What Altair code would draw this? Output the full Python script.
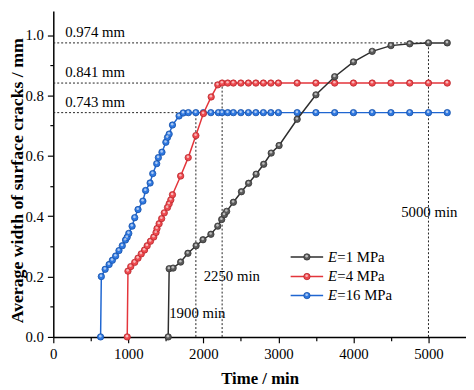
import altair as alt
import pandas as pd

# ---------------- data ----------------
E_values = [1, 4, 16]  # MPa

t_E1 = [1531, 1544, 1597, 1697, 1794, 1903, 1995, 2100, 2192, 2244, 2280, 2310, 2400,
        2507, 2603, 2703, 2804, 2904, 3009, 3250, 3500, 3750, 4000, 4250, 4500, 4750,
        5000, 5250]
w_E1 = [0.0, 0.226, 0.228, 0.248, 0.277, 0.302, 0.322, 0.340, 0.367, 0.389, 0.405, 0.416,
        0.446, 0.481, 0.509, 0.539, 0.572, 0.609, 0.634, 0.721, 0.802, 0.862, 0.911, 0.946,
        0.965, 0.971, 0.974, 0.974]

t_E4 = [985, 995, 1032, 1085, 1129, 1172, 1216, 1251, 1295, 1339, 1369, 1382, 1410, 1444,
        1479, 1522, 1544, 1566, 1588, 1697, 1798, 1900, 2000, 2104, 2192, 2250, 2325, 2400,
        2500, 2600, 2700, 2800, 2900, 3000, 3250, 3500, 3750, 4000, 4250, 4500, 4750, 5000,
        5250]
w_E4 = [0.0, 0.218, 0.233, 0.247, 0.261, 0.275, 0.288, 0.302, 0.317, 0.331, 0.346, 0.359,
        0.375, 0.392, 0.411, 0.429, 0.441, 0.454, 0.471, 0.533, 0.594, 0.667, 0.740, 0.795,
        0.835, 0.841, 0.841, 0.841, 0.841, 0.841, 0.841, 0.841, 0.841, 0.841, 0.841, 0.841,
        0.841, 0.841, 0.841, 0.841, 0.841, 0.841, 0.841]

t_E16 = [630, 640, 691, 744, 787, 831, 875, 919, 962, 984, 1006, 1050, 1085, 1129, 1194,
         1230, 1290, 1325, 1378, 1400, 1448, 1500, 1522, 1544, 1588, 1676, 1732, 1800, 1900,
         2000, 2100, 2200, 2250, 2325, 2400, 2500, 2600, 2700, 2800, 2900, 3000, 3250, 3500,
         3750, 4000, 4250, 4500, 4750, 5000, 5250]
w_E16 = [0.0, 0.200, 0.224, 0.240, 0.254, 0.268, 0.286, 0.302, 0.321, 0.330, 0.343, 0.367,
         0.395, 0.422, 0.450, 0.485, 0.510, 0.541, 0.574, 0.594, 0.612, 0.645, 0.661, 0.672,
         0.702, 0.732, 0.742, 0.743, 0.743, 0.743, 0.743, 0.743, 0.743, 0.743, 0.743, 0.743,
         0.743, 0.743, 0.743, 0.743, 0.743, 0.743, 0.743, 0.743, 0.743, 0.743, 0.743, 0.743,
         0.743, 0.743]

ref_times = [1900, 2250, 5000]      # min
ref_widths = [0.743, 0.841, 0.974]  # mm

x_major = [0, 1000, 2000, 3000, 4000, 5000]
x_minor = [500, 1500, 2500, 3500, 4500]
y_major = [0.0, 0.2, 0.4, 0.6, 0.8, 1.0]
y_minor = [0.1, 0.3, 0.5, 0.7, 0.9]

# ---------------- styling ----------------
FONT = "Liberation Serif"
LINE_COLORS = {1: "#2e2e2e", 4: "#e4353b", 16: "#1f66d1"}
MARK_COLORS = {1: "#5a5a5a", 4: "#ee4a4f", 16: "#2f78e0"}
EDGE_COLORS = {1: "#333333", 4: "#b8262b", 16: "#1650a8"}

XS = alt.Scale(domain=[0, 5500], nice=False, zero=False)
YS = alt.Scale(domain=[0, 1.08], nice=False, zero=False)

ax_x = alt.Axis(values=x_major, format="d", title="Time / min", grid=False,
                tickSize=6, tickWidth=1.2, tickColor="black",
                domainColor="black", domainWidth=1.5,
                labelFont=FONT, labelFontSize=15, labelColor="black", labelPadding=4,
                labelFlush=False,
                titleFont=FONT, titleFontSize=17, titleFontWeight="bold",
                titleColor="black", titleBaseline="top", titleY=34, titleX=209.5)
ax_x_minor = alt.Axis(values=x_minor, labels=False, domain=False, grid=False,
                      tickSize=4, tickWidth=1.2, tickColor="black", title="",
                      orient="bottom")
ax_y = alt.Axis(values=y_major, format=".1f", title="Average width of surface cracks / mm",
                grid=False, tickSize=6, tickWidth=1.2, tickColor="black",
                domainColor="black", domainWidth=1.5,
                labelFont=FONT, labelFontSize=15, labelColor="black", labelPadding=4,
                labelFlush=False,
                titleFont=FONT, titleFontSize=18, titleFontWeight="bold",
                titleColor="black", titleBaseline="bottom", titleX=-27, titleY=172)
ax_y_minor = alt.Axis(values=y_minor, labels=False, domain=False, grid=False,
                      tickSize=3.5, tickWidth=1.2, tickColor="black", title="",
                      orient="left")

series = [(1, t_E1, w_E1), (4, t_E4, w_E4), (16, t_E16, w_E16)]

# ---------------- reference dotted lines ----------------
ref_rows = []
for t, w in zip(ref_times, ref_widths):
    ref_rows.append({"x": 0, "x2": t, "y": w, "y2": w})
    ref_rows.append({"x": t, "x2": t, "y": 0, "y2": w})
ref_df = pd.DataFrame(ref_rows)

axes_layer = alt.Chart(ref_df).mark_rule(strokeDash=[2, 2], color="#222222",
                                          strokeWidth=1).encode(
    x=alt.X("x:Q", scale=XS, axis=ax_x),
    x2="x2:Q",
    y=alt.Y("y:Q", scale=YS, axis=ax_y),
    y2="y2:Q",
)
minor_layer = alt.Chart(ref_df).mark_rule(opacity=0).encode(
    x=alt.X("x:Q", scale=XS, axis=ax_x_minor),
    y=alt.Y("y:Q", scale=YS, axis=ax_y_minor),
)

layers = [axes_layer, minor_layer]

# series (blue underneath, black on top)
for e, ts, ws in sorted(series, key=lambda s: -s[0]):
    d = pd.DataFrame({"t": ts, "w": ws, "i": range(len(ts))})
    base = alt.Chart(d).encode(
        x=alt.X("t:Q", scale=XS, axis=None),
        y=alt.Y("w:Q", scale=YS, axis=None),
        order="i:Q",
    )
    layers.append(base.mark_line(color=LINE_COLORS[e], strokeWidth=1.5))
    layers.append(base.mark_point(filled=True, size=42, fill=MARK_COLORS[e],
                                  stroke=EDGE_COLORS[e], strokeWidth=0.8, opacity=1))
    layers.append(base.mark_point(filled=True, size=7, fill="white", opacity=0.6,
                                  yOffset=-0.8, xOffset=-0.3))

# width labels
wl_df = pd.DataFrame({"w": ref_widths, "txt": [f"{w:.3f} mm" for w in ref_widths]})
layers.append(alt.Chart(wl_df).mark_text(align="left", baseline="middle", dx=12, dy=-11,
                                         font=FONT, fontSize=15, color="black").encode(
    x=alt.value(0), y=alt.Y("w:Q", scale=YS, axis=None), text="txt:N"))

# time labels (positions)
tl_df = pd.DataFrame({"x": [1545, 2004, 4636], "y": [0.079, 0.200, 0.412],
                      "txt": [f"{t} min" for t in ref_times]})
layers.append(alt.Chart(tl_df).mark_text(align="left", baseline="middle", font=FONT,
                                         fontSize=15, color="black").encode(
    x=alt.X("x:Q", scale=XS, axis=None), y=alt.Y("y:Q", scale=YS, axis=None),
    text="txt:N"))

# manual legend
leg_df = pd.DataFrame({
    "e": E_values,
    "y": [0.265, 0.200, 0.137],
    "x0": [3163] * 3, "x1": [3596] * 3, "xm": [3380] * 3, "xt": [3661] * 3,
    "rest": [f"={e} MPa" for e in E_values],
})
for e in E_values:
    sub = leg_df[leg_df.e == e]
    layers.append(alt.Chart(sub).mark_rule(color=LINE_COLORS[e], strokeWidth=1.5).encode(
        x=alt.X("x0:Q", scale=XS, axis=None), x2="x1:Q",
        y=alt.Y("y:Q", scale=YS, axis=None)))
    layers.append(alt.Chart(sub).mark_point(filled=True, size=42, fill=MARK_COLORS[e],
                                            stroke=EDGE_COLORS[e], strokeWidth=0.8,
                                            opacity=1).encode(
        x=alt.X("xm:Q", scale=XS, axis=None), y=alt.Y("y:Q", scale=YS, axis=None)))
    layers.append(alt.Chart(sub).mark_point(filled=True, size=7, fill="white", opacity=0.6,
                                            yOffset=-0.8, xOffset=-0.3).encode(
        x=alt.X("xm:Q", scale=XS, axis=None), y=alt.Y("y:Q", scale=YS, axis=None)))
layers.append(alt.Chart(leg_df).mark_text(align="left", baseline="middle", font=FONT,
                                          fontSize=15, fontStyle="italic",
                                          color="black").encode(
    x=alt.X("xt:Q", scale=XS, axis=None), y=alt.Y("y:Q", scale=YS, axis=None),
    text=alt.value("E")))
layers.append(alt.Chart(leg_df).mark_text(align="left", baseline="middle", font=FONT,
                                          fontSize=15, dx=9.5, color="black").encode(
    x=alt.X("xt:Q", scale=XS, axis=None), y=alt.Y("y:Q", scale=YS, axis=None),
    text="rest:N"))

chart = alt.layer(*layers).resolve_axis(x="independent", y="independent").properties(
    width=419, height=331,
    autosize=alt.AutoSizeParams(type="none"),
    padding={"left": 46, "top": 0, "right": 0, "bottom": 55},
    background="white",
).configure_view(stroke=None)

chart.save("out.html", embed_options={"renderer": "svg", "actions": False})
